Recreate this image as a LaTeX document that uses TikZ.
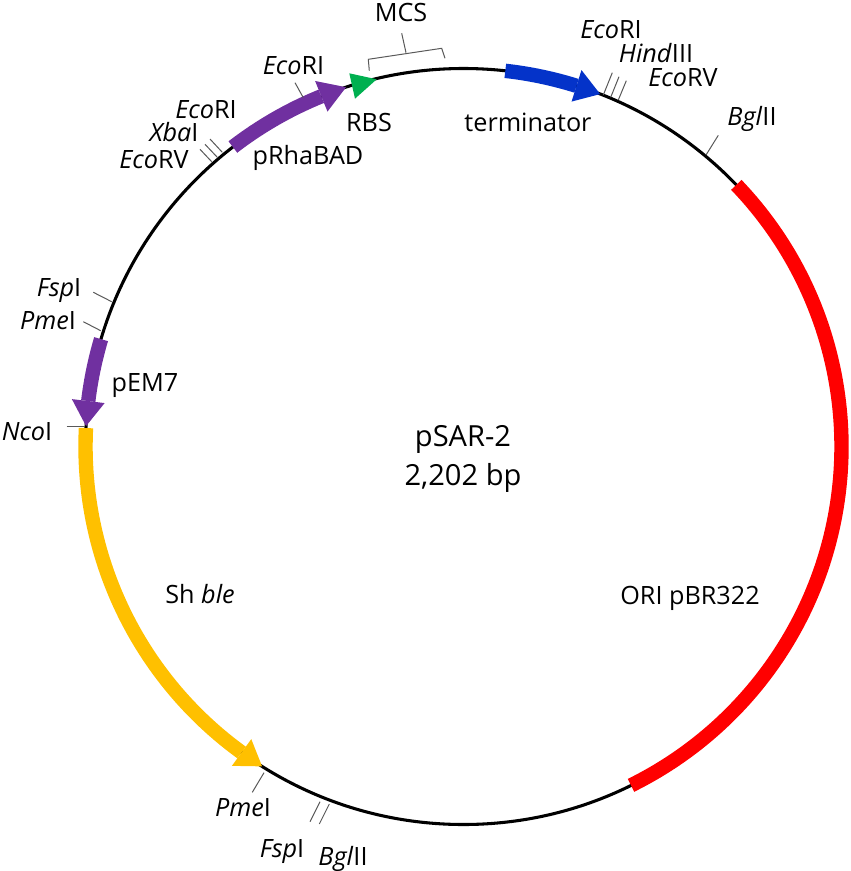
\documentclass[tikz,border=0pt]{standalone}
\usepackage{fontspec}
\setmainfont{Open Sans}
\definecolor{cpurple}{HTML}{7030A0}
\definecolor{cgreen}{HTML}{00B050}
\definecolor{cblue}{HTML}{0433C9}
\definecolor{cyellow}{HTML}{FFC000}
\definecolor{cred}{HTML}{FF0000}
\tikzset{
  lab/.style={anchor=base,inner sep=0pt,outer sep=0pt,yshift=-0.75pt,font=\fontsize{18.9pt}{22pt}\selectfont},
  biglab/.style={anchor=base,inner sep=0pt,outer sep=0pt,font=\fontsize{21.8pt}{26pt}\selectfont},
  tick/.style={draw=black!65,line width=0.75pt},
  ring/.style={draw=black,line width=2.3pt},
  band/.style={line width=10.8pt}
}
% colour, start angle, head base angle, tip angle
\newcommand\plasarrow[4]{%
  \draw[band,draw=#1] (#2:378) arc[start angle=#2,end angle=#3,radius=283.5pt];
  \fill[#1] (#3:394.5) -- (#4:378) -- (#3:361.5) -- cycle;
}
\begin{document}
\begin{tikzpicture}[x=.75pt,y=-.75pt]
\useasboundingbox (0,0) rectangle (850,871);
\begin{scope}[shift={(463.5,446.5)},y=.75pt]
  \draw[ring] (0,0) circle[radius=283.5pt];
  \draw[band,draw=cred] (43.8:378) arc[start angle=43.8,end angle=-63.7,radius=283.5pt];
  \plasarrow{cyellow}{177.2}{234.05}{237.8}
  \plasarrow{cpurple}{163.5}{173.1}{176.9}
  \plasarrow{cpurple}{127.6}{112.1}{108.1}
  \plasarrow{cblue}{83.65}{72.6}{68.8}
\end{scope}
\fill[cgreen] (349.3,73.3) -- (376.7,79.3) -- (355,98.7) -- cycle;
% restriction-site ticks
\draw[tick] (295,82.7) -- (303.3,97.7);
\draw[tick] (210,139) -- (222.3,152.3);
\draw[tick] (205,144.3) -- (217.3,157.3);
\draw[tick] (200,149.3) -- (211.7,161.7);
\draw[tick] (93.3,292.3) -- (111.7,301.7);
\draw[tick] (83.3,321.7) -- (100.7,330.7);
\draw[tick] (66.7,426) -- (85,426);
\draw[tick] (252.3,792.3) -- (264,772.7);
\draw[tick] (310,821.7) -- (320,801.7);
\draw[tick] (319.3,824) -- (329.3,804);
\draw[tick] (603.3,95) -- (612.3,72.7);
\draw[tick] (610.7,97.3) -- (619,76.7);
\draw[tick] (618.3,100) -- (626.3,80.7);
\draw[tick] (706,155) -- (718.3,135.3);
% MCS bracket
\draw[tick] (369.3,70.7) -- (368.3,59.3) -- (441.7,48.3) -- (445,58.3);
\draw[tick] (406,52.7) -- (401.7,33.3);
% labels
\node[lab] (mcs) at (401,20) {MCS};
\node[lab] (eco1) at (293.5,73) {\textit{Eco}RI};
\node[lab] (eco2) at (206,117) {\textit{Eco}RI};
\node[lab] (xba) at (174,140) {\textit{Xba}I};
\node[lab] (ecov1) at (154,167) {\textit{Eco}RV};
\node[lab] (rbs) at (369,130) {RBS};
\node[lab] (rha) at (308,163) {pRhaBAD};
\node[lab] (term) at (528,130) {terminator};
\node[lab] (eco3) at (611,37) {\textit{Eco}RI};
\node[lab] (hind) at (656,61) {\textit{Hind}III};
\node[lab] (ecov2) at (683,85) {\textit{Eco}RV};
\node[lab] (bgl1) at (752,124) {\textit{Bgl}II};
\node[lab] (fsp1) at (59,295) {\textit{Fsp}I};
\node[lab] (pme1) at (48,328) {\textit{Pme}I};
\node[lab] (pem) at (145,390) {pEM7};
\node[lab] (nco) at (27,439) {\textit{Nco}I};
\node[biglab] (name) at (463,446.5) {pSAR-2};
\node[biglab] (size) at (463,485) {2,202 bp};
\node[lab] (ble) at (200,602) {Sh \textit{ble}};
\node[lab] (ori) at (690,603) {ORI pBR322};
\node[lab] (pme2) at (243,815) {\textit{Pme}I};
\node[lab] (fsp2) at (282,856) {\textit{Fsp}I};
\node[lab] (bgl2) at (343,864) {\textit{Bgl}II};
\end{tikzpicture}
\end{document}
